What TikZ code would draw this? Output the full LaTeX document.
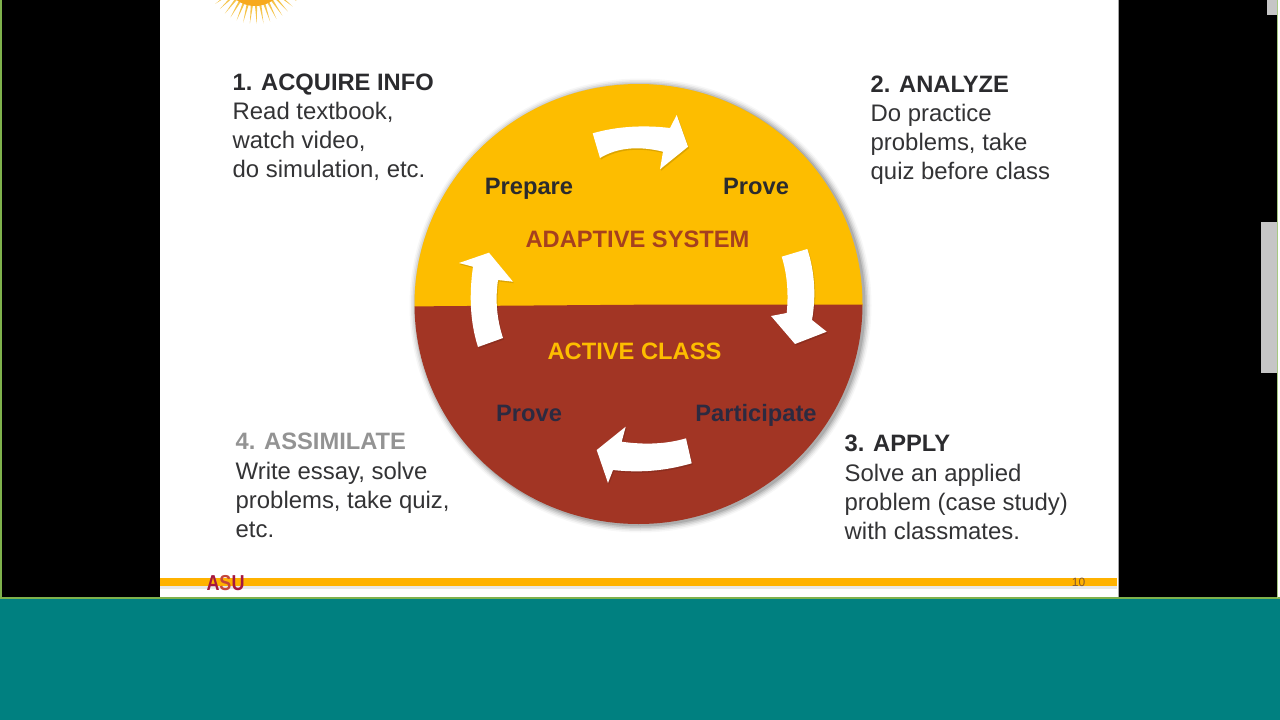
\documentclass[tikz,border=0pt]{standalone}
\usepackage{fontspec}
\setmainfont{Liberation Sans}
\definecolor{gold}{HTML}{FDBD00}
\definecolor{maroon}{HTML}{A23524}
\definecolor{ink}{HTML}{2B2B2E}
\definecolor{bodyink}{HTML}{333335}
\definecolor{darkblueink}{HTML}{2C2A40}
\definecolor{adaptink}{HTML}{A5401F}
\definecolor{teal2}{HTML}{008080}
\definecolor{edgegreen}{HTML}{7FB24C}
\definecolor{rayc}{HTML}{F6C44A}
\definecolor{corec}{HTML}{F7A91E}
\definecolor{asuc}{HTML}{A5173F}
\definecolor{asus}{HTML}{C4463A}
\tikzset{
  x=1pt,y=-1pt,
  head/.style={anchor=base west,inner sep=0pt,font=\fontsize{23.7}{23.7}\selectfont\bfseries,text=ink},
  body/.style={anchor=base west,inner sep=0pt,font=\fontsize{23.9}{23.9}\selectfont,text=bodyink},
  lab/.style={anchor=base,inner sep=0pt,font=\fontsize{23.7}{23.7}\selectfont\bfseries},
  cycarrow/.style={fill=white,draw=none},
  arrowshade/.style={fill=black,opacity=.13,draw=none},
}
\begin{document}
\begin{tikzpicture}
\useasboundingbox (0,0) rectangle (1280,720);
\fill[white] (0,0) rectangle (1280,720);
\fill[black] (0,0) rectangle (1277,598);
\fill[teal2] (0,598) rectangle (1280,720);
\fill[edgegreen] (0,597) rectangle (1280,598.5);
\fill[edgegreen] (0,0) rectangle (1.8,598);
\fill[edgegreen!70!white] (1276.5,0) rectangle (1278,598);
\fill[white] (160,0) rectangle (1117.5,597);
\fill[gray!70] (1117.5,0) rectangle (1118.2,597);
\fill[gray!45] (1261,222) rectangle (1276.5,373);
\fill[gray!45] (1267,0) rectangle (1276.5,15);
% sun
\begin{scope}
\clip (160,0) rectangle (1117,60);
\foreach \a in {0,8,...,352} {
  \fill[rayc] ({255+25*cos(\a-3.2)},{-25+25*sin(\a-3.2)}) -- ({255+49*cos(\a)},{-25+49*sin(\a)}) -- ({255+25*cos(\a+3.2)},{-25+25*sin(\a+3.2)}) -- cycle;
}
\fill[corec] (255,-25) circle[radius=31];
\end{scope}
% circle shadow
\foreach \r/\o in {7/0.03,5.5/0.05,4/0.07,2.5/0.09,1/0.12} {
  \fill[black,opacity=\o] (640.5,305.5) ellipse[x radius={224+\r},y radius={220+\r}];
}
\begin{scope}
\clip (638.5,304) ellipse[x radius=224,y radius=220];
\fill[gold] (400,70) rectangle (880,307);
\fill[maroon] (400,306.5) -- (640,304.7) -- (880,304.5) -- (880,540) -- (400,540) -- cycle;
\end{scope}
% arrows: shadows
\begin{scope}[shift={(1,1.5)}]
\fill[arrowshade] (592.7,133.3) .. controls (618,126) and (645,125) .. (670,128) -- (676.7,115) -- (688,146.7) -- (660,169.3) -- (663,151.7) .. controls (640,146) and (618,147) .. (600,158) -- cycle;
\fill[arrowshade] (781.7,256.7) -- (807.3,249) .. controls (815,272) and (816,297) .. (812,320) -- (826.7,331.7) -- (795,344) -- (771,316) -- (786.7,313) .. controls (788.5,295) and (787.5,275) .. (781.7,256.7) -- cycle;
\fill[arrowshade] (686,438.3) -- (691.7,463.3) .. controls (665,471) and (640,473) .. (613,470) -- (608,483) -- (596.7,450) -- (625.7,426.7) -- (621.7,441.7) .. controls (645,445) and (667,444) .. (686,438.3) -- cycle;
\fill[arrowshade] (478,347) -- (503,338) .. controls (497,320) and (495,300) .. (498,280) -- (513,281.7) -- (489,252.7) -- (459,263) -- (473,266.7) .. controls (469,295) and (470,322) .. (478,347) -- cycle;
\end{scope}
\fill[cycarrow] (592.7,133.3) .. controls (618,126) and (645,125) .. (670,128) -- (676.7,115) -- (688,146.7) -- (660,169.3) -- (663,151.7) .. controls (640,146) and (618,147) .. (600,158) -- cycle;
\fill[cycarrow] (781.7,256.7) -- (807.3,249) .. controls (815,272) and (816,297) .. (812,320) -- (826.7,331.7) -- (795,344) -- (771,316) -- (786.7,313) .. controls (788.5,295) and (787.5,275) .. (781.7,256.7) -- cycle;
\fill[cycarrow] (686,438.3) -- (691.7,463.3) .. controls (665,471) and (640,473) .. (613,470) -- (608,483) -- (596.7,450) -- (625.7,426.7) -- (621.7,441.7) .. controls (645,445) and (667,444) .. (686,438.3) -- cycle;
\fill[cycarrow] (478,347) -- (503,338) .. controls (497,320) and (495,300) .. (498,280) -- (513,281.7) -- (489,252.7) -- (459,263) -- (473,266.7) .. controls (469,295) and (470,322) .. (478,347) -- cycle;
% circle labels
\node[lab,text=ink] (prep) at (529,194) {Prepare};
\node[lab,text=ink] (prv1) at (756,194) {Prove};
\node[lab,text=adaptink] (adsys) at (637.5,247.5) {ADAPTIVE SYSTEM};
\node[lab,text=gold] (acls) at (634.5,359.5) {ACTIVE CLASS};
\node[lab,text=darkblueink] (prv2) at (529,421) {Prove};
\node[lab,text=darkblueink] (part) at (756,421) {Participate};
% corner text
\node[head] (h1) at (232.5,90) {1. ACQUIRE INFO};
\node[body] (b1a) at (232.5,119.5) {Read textbook,};
\node[body] (b1b) at (232.5,148.5) {watch video,};
\node[body] (b1c) at (232.5,177.5) {do simulation, etc.};
\node[head] (h2) at (870.5,92) {2. ANALYZE};
\node[body] (b2a) at (870.5,121.5) {Do practice};
\node[body] (b2b) at (870.5,150.5) {problems, take};
\node[body] (b2c) at (870.5,179.5) {quiz before class};
\node[head] (h3) at (844.5,451) {3. APPLY};
\node[body] (b3a) at (844.5,481) {Solve an applied};
\node[body] (b3b) at (844.5,510) {problem (case study)};
\node[body] (b3c) at (844.5,539) {with classmates.};
\node[head,text=gray!85] (h4) at (235.5,449) {4. ASSIMILATE};
\node[body] (b4a) at (235.5,479) {Write essay, solve};
\node[body] (b4b) at (235.5,508) {problems, take quiz,};
\node[body] (b4c) at (235.5,537) {etc.};
% footer
\fill[orange!60!yellow] (160,578) rectangle (1117,586);
\fill[gray!18] (160,586) rectangle (1117,589);
\node[anchor=base,inner sep=0pt,yscale=1.2,font=\fontsize{18}{18}\selectfont\bfseries,text=asuc] (asu) at (225.5,590.5) {A{\color{asus}S}U};
\node[anchor=base,inner sep=0pt,font=\fontsize{12}{12}\selectfont,text=brown!70!black] (pg) at (1078.5,586) {10};
\end{tikzpicture}
\end{document}
